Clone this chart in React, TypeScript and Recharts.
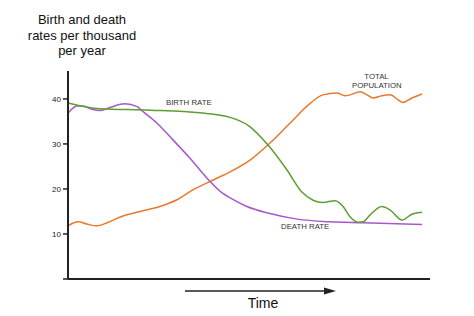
import { LineChart, Line, XAxis, YAxis } from 'recharts'

// time runs 0..100 along the x axis (no units shown)
const birthTime = [0, 8.8, 22.7, 36.5, 44.8, 50.3, 55.2, 60.5, 64.6, 67.7, 70.4, 73.8, 76, 77.9, 80.1, 81.5, 83.4, 86.7, 89, 92.3, 95, 97.8]
const birthRate = [39.1, 37.8, 37.5, 36.9, 35.9, 33.8, 29.8, 24.2, 19.3, 17.5, 17.0, 17.4, 16.1, 13.8, 12.6, 12.7, 14.2, 16.1, 15.3, 13.1, 14.4, 14.8]

const deathTime = [0, 2.5, 4.1, 6.6, 8.8, 11.6, 15.7, 19.1, 20.7, 24.6, 29, 33.7, 38.4, 42.8, 44.8, 49.4, 55.5, 63.3, 72.4, 81.5, 97.8]
const deathRate = [36.8, 38.4, 38.4, 37.7, 37.4, 38.1, 38.9, 38.3, 37.2, 34.6, 30.9, 26.8, 22.4, 19.0, 18.0, 16.1, 14.6, 13.3, 12.7, 12.5, 12.1]

const popTime = [0, 2.8, 5.2, 8, 10.8, 15.2, 19.9, 25.4, 30.1, 34.5, 40.1, 44.8, 50.3, 55.8, 61.3, 66.9, 70.4, 74.3, 76.5, 77.9, 80.7, 82.6, 84.3, 86.7, 89, 91.2, 92.5, 95, 97.8]
const population = [11.8, 12.7, 12.2, 11.8, 12.5, 14.0, 15.0, 16.1, 17.6, 19.8, 22.0, 23.8, 26.4, 30.2, 34.6, 39.0, 40.9, 41.3, 40.7, 40.9, 41.6, 40.9, 40.2, 40.7, 40.9, 39.8, 39.2, 40.2, 41.1]

const yTicks = [0, 10, 20, 30, 40]

const birthData = birthTime.map((t, i) => ({ t, v: birthRate[i] }))
const deathData = deathTime.map((t, i) => ({ t, v: deathRate[i] }))
const popData = popTime.map((t, i) => ({ t, v: population[i] }))

const FONT = '"Liberation Sans", Arial, sans-serif'

const labelStyle: React.CSSProperties = {
  position: 'absolute',
  fontFamily: FONT,
  fontSize: 7.8,
  color: '#333',
  lineHeight: '9px',
  whiteSpace: 'nowrap',
}

export default function App() {
  return (
    <div style={{ position: 'absolute', left: 0, top: 0, width: 474, height: 316, background: '#fff', fontFamily: FONT }}>
      <div
        style={{
          position: 'absolute',
          left: 22,
          top: 12,
          width: 120,
          textAlign: 'center',
          fontSize: 13,
          lineHeight: '15.5px',
          color: '#111',
        }}
      >
        Birth and death
        <br />
        rates per thousand
        <br />
        per year
      </div>

      <LineChart
        width={474}
        height={316}
        margin={{ top: 71, right: 44, bottom: 7, left: 0 }}
        style={{ position: 'absolute', left: 0, top: 0 }}
      >
        <XAxis
          type="number"
          dataKey="t"
          domain={[0, 100]}
          tick={false}
          tickLine={false}
          axisLine={{ stroke: '#222', strokeWidth: 2 }}
          height={30}
          allowDuplicatedCategory={false}
        />
        <YAxis
          type="number"
          domain={[0, 46.2]}
          ticks={yTicks}
          width={68}
          tickSize={5}
          tickMargin={2}
          tickFormatter={(v: number) => (v === 0 ? '' : String(v))}
          tick={{ fontSize: 8, fill: '#222', fontFamily: FONT }}
          tickLine={{ stroke: '#222', strokeWidth: 1.5 }}
          axisLine={{ stroke: '#222', strokeWidth: 2 }}
        />
        <Line data={popData} dataKey="v" type="monotone" stroke="#e8792c" strokeWidth={1.5} dot={false} isAnimationActive={false} />
        <Line data={deathData} dataKey="v" type="monotone" stroke="#a558cc" strokeWidth={1.5} dot={false} isAnimationActive={false} />
        <Line data={birthData} dataKey="v" type="monotone" stroke="#5e9e30" strokeWidth={1.5} dot={false} isAnimationActive={false} />
      </LineChart>

      <div style={{ ...labelStyle, left: 166, top: 98 }}>BIRTH RATE</div>
      <div style={{ ...labelStyle, left: 352, top: 72, textAlign: 'center', width: 49 }}>
        TOTAL
        <br />
        POPULATION
      </div>
      <div style={{ ...labelStyle, left: 281, top: 222 }}>DEATH RATE</div>

      <svg width={474} height={316} style={{ position: 'absolute', left: 0, top: 0, pointerEvents: 'none' }}>
        <line x1={185} y1={291} x2={326} y2={291} stroke="#222" strokeWidth={1.5} />
        <polygon points="336,291 324,287.5 324,294.5" fill="#222" />
      </svg>
      <div
        style={{
          position: 'absolute',
          left: 232,
          top: 295,
          width: 62,
          textAlign: 'center',
          fontSize: 14,
          color: '#111',
        }}
      >
        Time
      </div>
    </div>
  )
}
